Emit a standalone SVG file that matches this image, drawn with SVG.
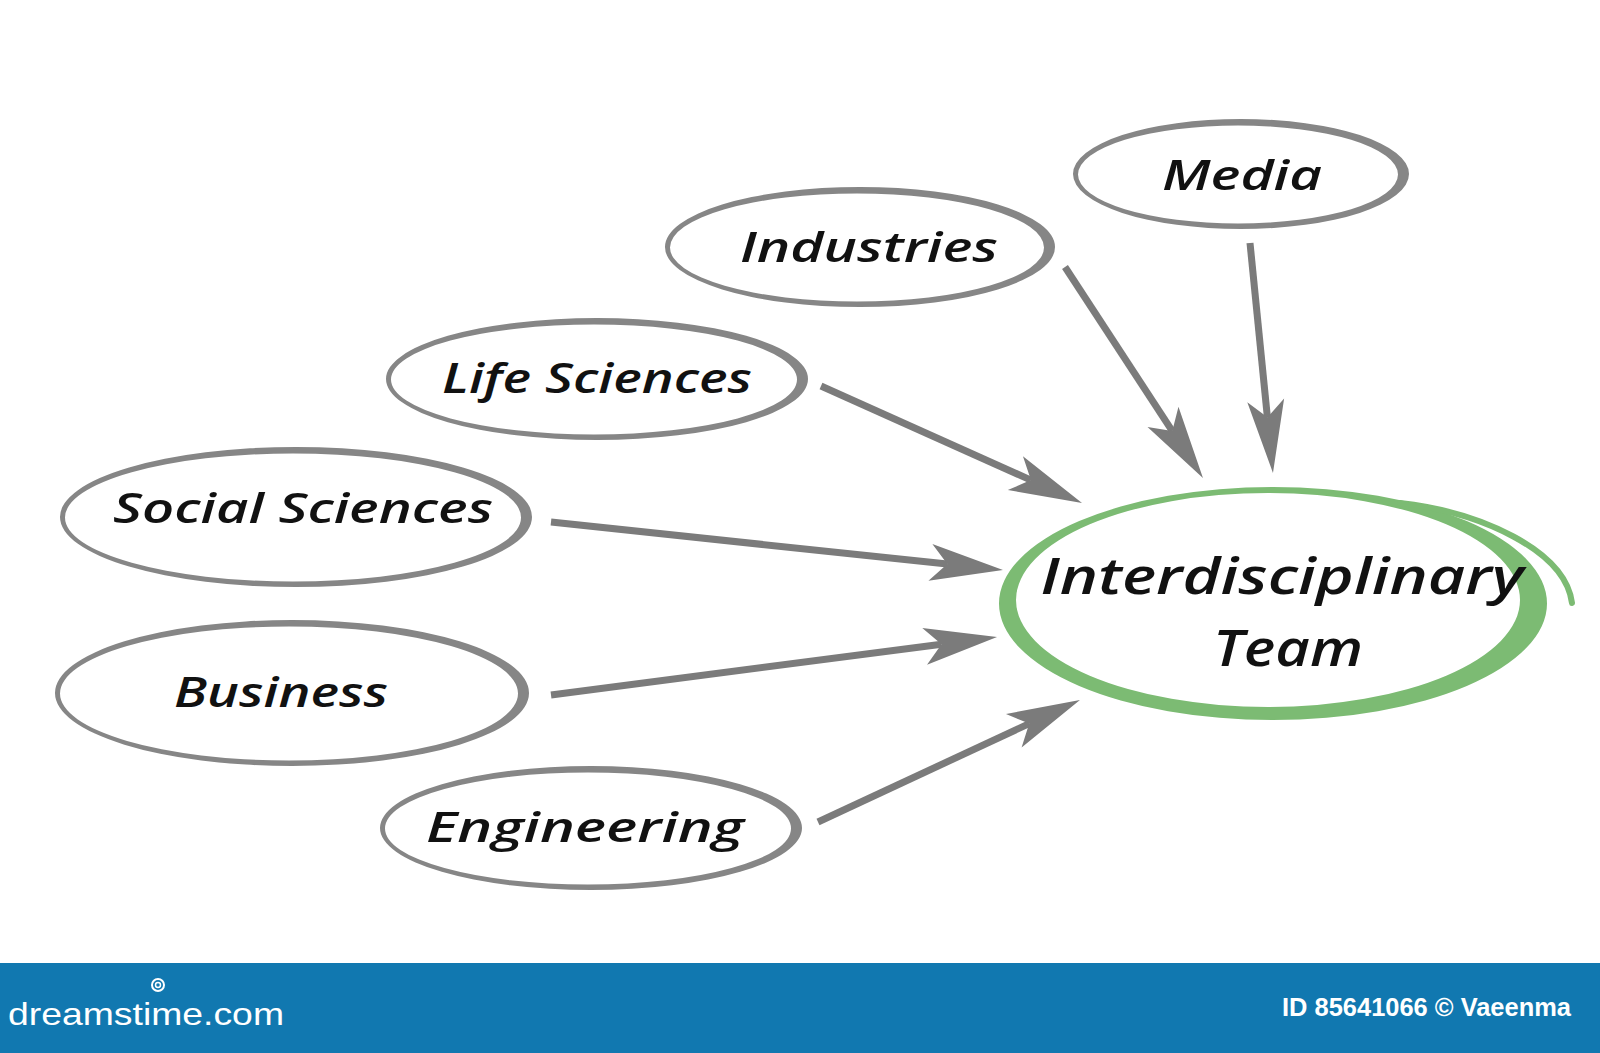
<svg xmlns="http://www.w3.org/2000/svg" width="1600" height="1053" viewBox="0 0 1600 1053">
<style>
.ring{fill:#868686;fill-rule:evenodd}
.lbl{font-family:"Open Sans","DejaVu Sans",sans-serif;font-style:italic;font-weight:600;font-size:42px;fill:#111;text-anchor:middle}
.big{font-size:50px}
.conn{stroke:#7b7b7b;stroke-width:7;fill:none;marker-end:url(#ah)}
.ban{font-family:"Liberation Sans",Arial,sans-serif;fill:#fff}
</style>
<defs>
<marker id="ah" markerUnits="userSpaceOnUse" markerWidth="80" markerHeight="40" refX="0" refY="0" orient="auto" overflow="visible">
<path d="M56 0 L-17 -18.5 L0 0 L-17 18.5 Z" fill="#7b7b7b"/>
</marker>
</defs>
<rect width="1600" height="1053" fill="#fff"/>

<g id="connectors">
<line class="conn" x1="1065" y1="267" x2="1172.3" y2="431.1"/>
<line class="conn" x1="1250" y1="243" x2="1267.4" y2="417.3"/>
<line class="conn" x1="821" y1="386" x2="1030.9" y2="480.1"/>
<line class="conn" x1="551" y1="522" x2="947.3" y2="564.1"/>
<line class="conn" x1="551" y1="695" x2="941.5" y2="644.2"/>
<line class="conn" x1="818" y1="822" x2="1029.2" y2="723.6"/>
</g>

<g id="media">
<path class="ring" d="M1073 174a168 55 0 1 0 336 0a168 55 0 1 0 -336 0Z M1078 174.5a160 49 0 1 0 320 0a160 49 0 1 0 -320 0Z"/>
<text class="lbl" x="1242" y="190" textLength="160" lengthAdjust="spacingAndGlyphs">Media</text>
</g>

<g id="industries">
<path class="ring" d="M665 247a195 60 0 1 0 390 0a195 60 0 1 0 -390 0Z M670 247.5a187 54 0 1 0 374 0a187 54 0 1 0 -374 0Z"/>
<text class="lbl" x="869" y="262" textLength="258" lengthAdjust="spacingAndGlyphs">Industries</text>
</g>

<g id="life-sciences">
<path class="ring" d="M386 379a211 61 0 1 0 422 0a211 61 0 1 0 -422 0Z M391 379.5a203 55 0 1 0 406 0a203 55 0 1 0 -406 0Z"/>
<text class="lbl" x="597" y="393" textLength="310" lengthAdjust="spacingAndGlyphs">Life Sciences</text>
</g>

<g id="social-sciences">
<path class="ring" d="M60 517a236 70 0 1 0 472 0a236 70 0 1 0 -472 0Z M65 517.5a228 64 0 1 0 456 0a228 64 0 1 0 -456 0Z"/>
<text class="lbl" x="303" y="523" textLength="380" lengthAdjust="spacingAndGlyphs">Social Sciences</text>
</g>

<g id="business">
<path class="ring" d="M55 693a237 73 0 1 0 474 0a237 73 0 1 0 -474 0Z M60 693.5a229 67 0 1 0 458 0a229 67 0 1 0 -458 0Z"/>
<text class="lbl" x="281" y="707" textLength="214" lengthAdjust="spacingAndGlyphs">Business</text>
</g>

<g id="engineering">
<path class="ring" d="M380 828a211 62 0 1 0 422 0a211 62 0 1 0 -422 0Z M385 828.5a203 56 0 1 0 406 0a203 56 0 1 0 -406 0Z"/>
<text class="lbl" x="585" y="842" textLength="318" lengthAdjust="spacingAndGlyphs">Engineering</text>
</g>

<g id="interdisciplinary-team">
<path d="M999 603.5a274 116.5 0 1 0 548 0a274 116.5 0 1 0 -548 0Z M1016 600a252 107 0 1 0 504 0a252 107 0 1 0 -504 0Z" fill="#7cbb73" fill-rule="evenodd"/>
<path d="M1400 503 C1480 512 1565 550 1572 603" fill="none" stroke="#7cbb73" stroke-width="6" stroke-linecap="round"/>
<text class="lbl big" x="1282" y="594" textLength="483" lengthAdjust="spacingAndGlyphs">Interdisciplinary</text>
<text class="lbl big" x="1288" y="666" textLength="150" lengthAdjust="spacingAndGlyphs">Team</text>
</g>

<g id="banner">
<rect x="0" y="963" width="1600" height="90" fill="#1178b0"/>
<circle cx="158" cy="985" r="6" fill="none" stroke="#fff" stroke-width="2"/>
<circle cx="158" cy="985" r="2.5" fill="none" stroke="#fff" stroke-width="1.5"/>
<text class="ban" x="8" y="1025" font-size="32" textLength="276" lengthAdjust="spacingAndGlyphs">dreamstime.com</text>
<text class="ban" x="1282" y="1016" font-size="25" font-weight="bold" textLength="289" lengthAdjust="spacingAndGlyphs">ID 85641066 © Vaeenma</text>
</g>
</svg>
